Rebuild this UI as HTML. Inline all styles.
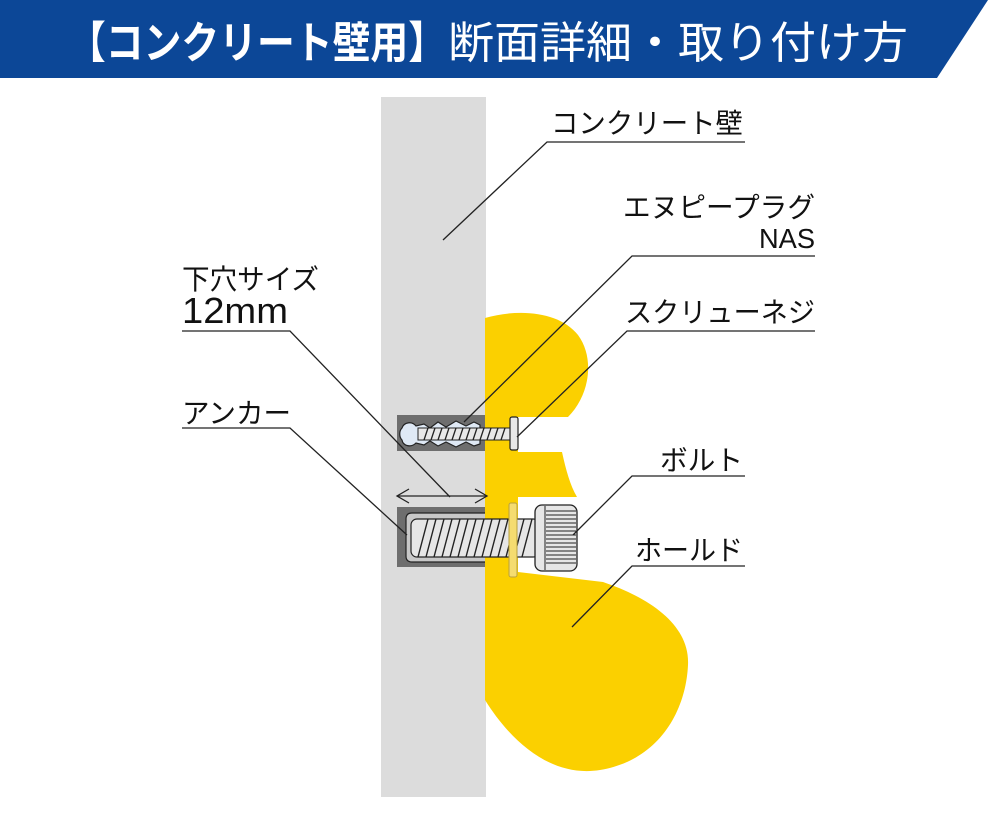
<!DOCTYPE html>
<html><head><meta charset="utf-8"><style>
html,body{margin:0;padding:0;background:#fff;}
svg{display:block;}
text{font-family:"Liberation Sans","Noto Sans CJK JP",sans-serif;}
</style></head><body>
<svg width="1000" height="830" viewBox="0 0 1000 830" xmlns="http://www.w3.org/2000/svg">
<polygon points="0,0 988,0 937,78 0,78" fill="#0c4797"/>
<text x="68" y="58" font-size="44" fill="#fff" font-weight="bold" textLength="378" lengthAdjust="spacingAndGlyphs">【コンクリート壁用】</text>
<text x="448" y="58" font-size="44" fill="#fff" textLength="460" lengthAdjust="spacingAndGlyphs">断面詳細・取り付け方</text>

<rect x="381" y="97" width="105" height="700" fill="#dcdcdc"/>

<path d="M485,318 C520,308 560,312 578,335 C595,358 590,395 568,417 L518,417 L518,452 L562,452 C566,470 570,485 577,497 L518,497 L518,572 L603,582 C650,598 690,625 688,665 C686,710 660,760 600,770 C550,778 510,740 485,700 Z" fill="#fbd000"/>

<!-- plug -->
<rect x="397" y="415" width="88" height="36" fill="#6e6e6e"/>
<path d="M402,428 C404,422 412,421 416,426 L424,424 L430,428 L438,422 L446,427 L456,421 L466,426 L474,422 L480,425 L480,444 L474,446 L466,442 L456,447 L446,442 L438,446 L430,441 L424,445 L416,443 C411,448 403,446 402,440 C399,437 399,431 402,428 Z" fill="#dfe9f5" stroke="#222" stroke-width="1.2"/>
<rect x="418" y="428" width="93" height="12" fill="#e8e8e8" stroke="#222" stroke-width="1"/>
<g stroke="#222" stroke-width="1.3">
<line x1="424" y1="440" x2="428" y2="428"/><line x1="431" y1="440" x2="435" y2="428"/><line x1="438" y1="440" x2="442" y2="428"/><line x1="445" y1="440" x2="449" y2="428"/><line x1="452" y1="440" x2="456" y2="428"/><line x1="459" y1="440" x2="463" y2="428"/><line x1="466" y1="440" x2="470" y2="428"/><line x1="473" y1="440" x2="477" y2="428"/><line x1="480" y1="440" x2="484" y2="428"/><line x1="487" y1="440" x2="491" y2="428"/><line x1="494" y1="440" x2="498" y2="428"/><line x1="501" y1="440" x2="505" y2="428"/>
</g>
<rect x="510" y="417" width="8" height="33" rx="2" fill="#e8e8e8" stroke="#222" stroke-width="1.2"/>

<!-- arrow -->
<g stroke="#222" stroke-width="1.3" fill="none">
<line x1="397" y1="496" x2="487" y2="496"/>
<polyline points="409,489 397,496 409,503"/>
<polyline points="475,489 487,496 475,503"/>
</g>

<!-- anchor + bolt -->
<rect x="397" y="507" width="88" height="60" fill="#6e6e6e"/>
<path d="M485,513 L412,513 Q406,513 406,519 L406,556 Q406,562 412,562 L485,562" fill="#c8c8c8" stroke="#222" stroke-width="1.2"/>
<rect x="411" y="519" width="128" height="38" rx="6" fill="#e6e6e6" stroke="#222" stroke-width="1.2"/>
<g stroke="#222" stroke-width="1.4">
<line x1="418" y1="557" x2="428" y2="519"/><line x1="426" y1="557" x2="436" y2="519"/><line x1="434" y1="557" x2="444" y2="519"/><line x1="442" y1="557" x2="452" y2="519"/><line x1="450" y1="557" x2="460" y2="519"/><line x1="458" y1="557" x2="468" y2="519"/><line x1="466" y1="557" x2="476" y2="519"/><line x1="474" y1="557" x2="484" y2="519"/><line x1="482" y1="557" x2="492" y2="519"/><line x1="490" y1="557" x2="500" y2="519"/><line x1="498" y1="557" x2="508" y2="519"/><line x1="506" y1="557" x2="516" y2="519"/><line x1="514" y1="557" x2="524" y2="519"/><line x1="522" y1="557" x2="532" y2="519"/>
</g>
<rect x="509" y="503" width="8" height="74" rx="2" fill="#f5dc70" stroke="#b8a040" stroke-width="1"/>
<rect x="535" y="505" width="42" height="66" rx="7" fill="#e6e6e6" stroke="#222" stroke-width="1.3"/>
<g stroke="#222" stroke-width="1">
<line x1="545" y1="506" x2="545" y2="570"/>
<line x1="546" y1="511" x2="576" y2="511"/><line x1="546" y1="515" x2="576" y2="515"/><line x1="546" y1="519" x2="576" y2="519"/><line x1="546" y1="523" x2="576" y2="523"/><line x1="546" y1="527" x2="576" y2="527"/><line x1="546" y1="531" x2="576" y2="531"/><line x1="546" y1="535" x2="576" y2="535"/><line x1="546" y1="539" x2="576" y2="539"/><line x1="546" y1="543" x2="576" y2="543"/><line x1="546" y1="547" x2="576" y2="547"/><line x1="546" y1="551" x2="576" y2="551"/><line x1="546" y1="555" x2="576" y2="555"/><line x1="546" y1="559" x2="576" y2="559"/><line x1="546" y1="563" x2="576" y2="563"/>
</g>

<!-- leaders -->
<g stroke="#222" stroke-width="1.3" fill="none">
<polyline points="745,142 547,142 443,240"/>
<polyline points="815,256 632,256 464,422"/>
<polyline points="815,331 627,331 517,437"/>
<polyline points="745,476 632,476 573,535"/>
<polyline points="745,566 632,566 572,627"/>
<polyline points="182,331 290,331 450,497"/>
<polyline points="182,428 290,428 407,535"/>
</g>

<g font-size="28" fill="#111">
<text x="551" y="133" textLength="192" lengthAdjust="spacingAndGlyphs">コンクリート壁</text>
<text x="623" y="217" textLength="192" lengthAdjust="spacingAndGlyphs">エヌピープラグ</text>
<text x="815" y="248" text-anchor="end" font-size="28" textLength="56" lengthAdjust="spacingAndGlyphs">NAS</text>
<text x="625" y="322" textLength="190" lengthAdjust="spacingAndGlyphs">スクリューネジ</text>
<text x="660" y="470" textLength="83" lengthAdjust="spacingAndGlyphs">ボルト</text>
<text x="635" y="560" textLength="108" lengthAdjust="spacingAndGlyphs">ホールド</text>
<text x="182" y="289" textLength="137" lengthAdjust="spacingAndGlyphs">下穴サイズ</text>
<text x="182" y="323" font-size="36" textLength="106" lengthAdjust="spacingAndGlyphs">12mm</text>
<text x="182" y="423" textLength="109" lengthAdjust="spacingAndGlyphs">アンカー</text>
</g>
</svg>
</body></html>
